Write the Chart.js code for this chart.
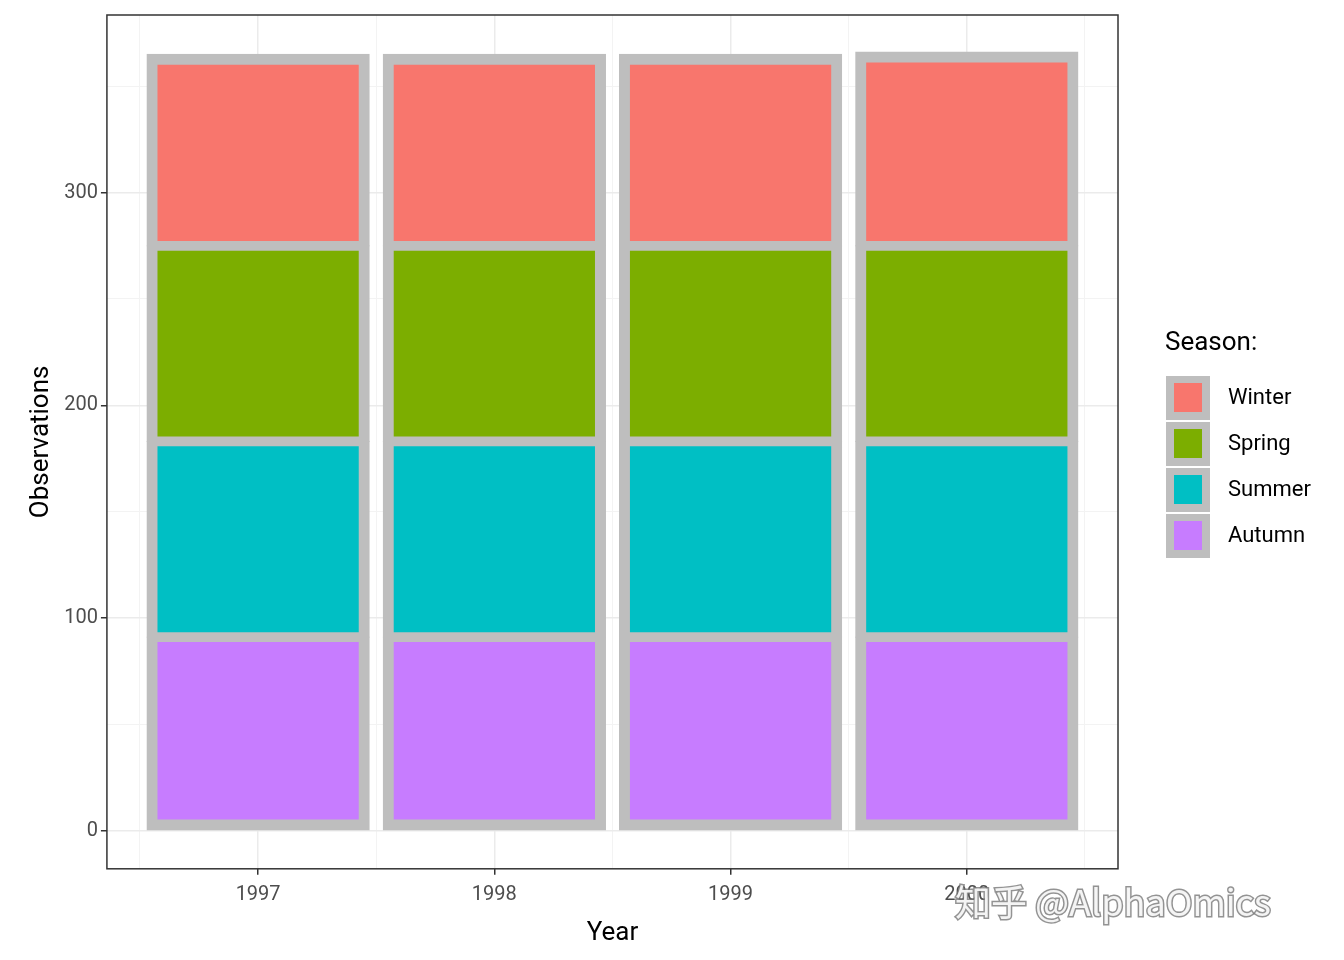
<!DOCTYPE html><html><head><meta charset="utf-8">
<script src="https://cdn.jsdelivr.net/npm/chart.js@4"></script>
<style>body{margin:0;background:#fff}#w{width:1344px;height:960px}</style></head><body><div id="w"><canvas id="c"></canvas></div>
<script>
const years=[1997,1998,1999,2000];
const seasons=['Autumn','Summer','Spring','Winter'];
const autumn=[91,91,91,91];
const summer=[92,92,92,92];
const spring=[92,92,92,92];
const winter=[90,90,90,91];
const colors=['#C77CFF','#00BFC4','#7CAE00','#F8766D'];
const vals=[autumn,summer,spring,winter];
const G='#BEBEBE';
const datasets=vals.map((v,i)=>({label:seasons[i],data:v.map((y,j)=>({x:years[j],y})),backgroundColor:colors[i],borderColor:G,inflateAmount:0.6,
 borderSkipped:false,borderWidth:{left:11,right:11,top:i===3?11:5.5,bottom:i===0?11:5.5},barPercentage:1.88,categoryPercentage:1}));
const F='Roboto';
const isMajorX=c=>c.tick&&Number.isInteger(c.tick.value);
const isMajorY=c=>c.tick&&c.tick.value%100===0;
const deco={id:'deco',afterDraw(ch){const c=ch.ctx,a=ch.chartArea;c.save();c.strokeStyle='#333';c.lineWidth=1.5;c.strokeRect(a.left,a.top,a.right-a.left,a.bottom-a.top);
 c.fillStyle='#000';c.font='26px '+F;c.textBaseline='middle';c.fillText('Season:',1165,343);
 const order=[3,2,1,0];order.forEach((k,i)=>{const y=376+i*46;c.fillStyle=G;c.fillRect(1166,y,44,44);c.fillStyle=colors[k];c.fillRect(1174,y+7,28,29);
 c.fillStyle='#000';c.font='22px '+F;c.fillText(seasons[k],1228,y+22);});
 c.font='36px "Noto Sans CJK SC"';c.lineWidth=3;c.strokeStyle='rgba(120,120,120,0.8)';c.strokeText('知乎 @AlphaOmics',955,902);c.fillStyle='rgba(255,255,255,0.9)';c.fillText('知乎 @AlphaOmics',955,902);
 c.restore();}};
new Chart(document.getElementById('c'),{type:'bar',data:{datasets},plugins:[deco],options:{responsive:true,maintainAspectRatio:false,animation:false,
 layout:{padding:{left:22,right:226,top:15,bottom:7}},
 plugins:{legend:{display:false},tooltip:{enabled:false}},
 scales:{x:{type:'linear',offset:false,stacked:true,min:1996.36,max:2000.64,afterBuildTicks(s){s.ticks=[1996.5,1997,1997.5,1998,1998.5,1999,1999.5,2000,2000.5].map(v=>({value:v}));},
  ticks:{autoSkip:false,maxRotation:0,padding:8,color:'#4D4D4D',font:{family:F,size:20},callback:v=>Number.isInteger(v)?String(v):''},
  grid:{offset:false,color:c=>isMajorX(c)?'#EBEBEB':'#F3F3F3',lineWidth:c=>isMajorX(c)?1.5:1,tickColor:c=>isMajorX(c)?'#333':'rgba(0,0,0,0)',tickLength:6},border:{display:false},
  title:{display:true,text:'Year',color:'#000',font:{family:F,size:26},padding:{top:3}}},
 y:{stacked:true,min:-17.9,max:383.5,afterBuildTicks(s){s.ticks=[0,50,100,150,200,250,300,350].map(v=>({value:v}));},
  ticks:{color:'#4D4D4D',font:{family:F,size:20},callback:v=>v%100===0?String(v):''},
  grid:{color:c=>isMajorY(c)?'#EBEBEB':'#F3F3F3',lineWidth:c=>isMajorY(c)?1.5:1,tickColor:c=>isMajorY(c)?'#333':'rgba(0,0,0,0)',tickLength:6},border:{display:false},
  title:{display:true,text:'Observations',color:'#000',font:{family:F,size:26}}}}}});
</script></body></html>
